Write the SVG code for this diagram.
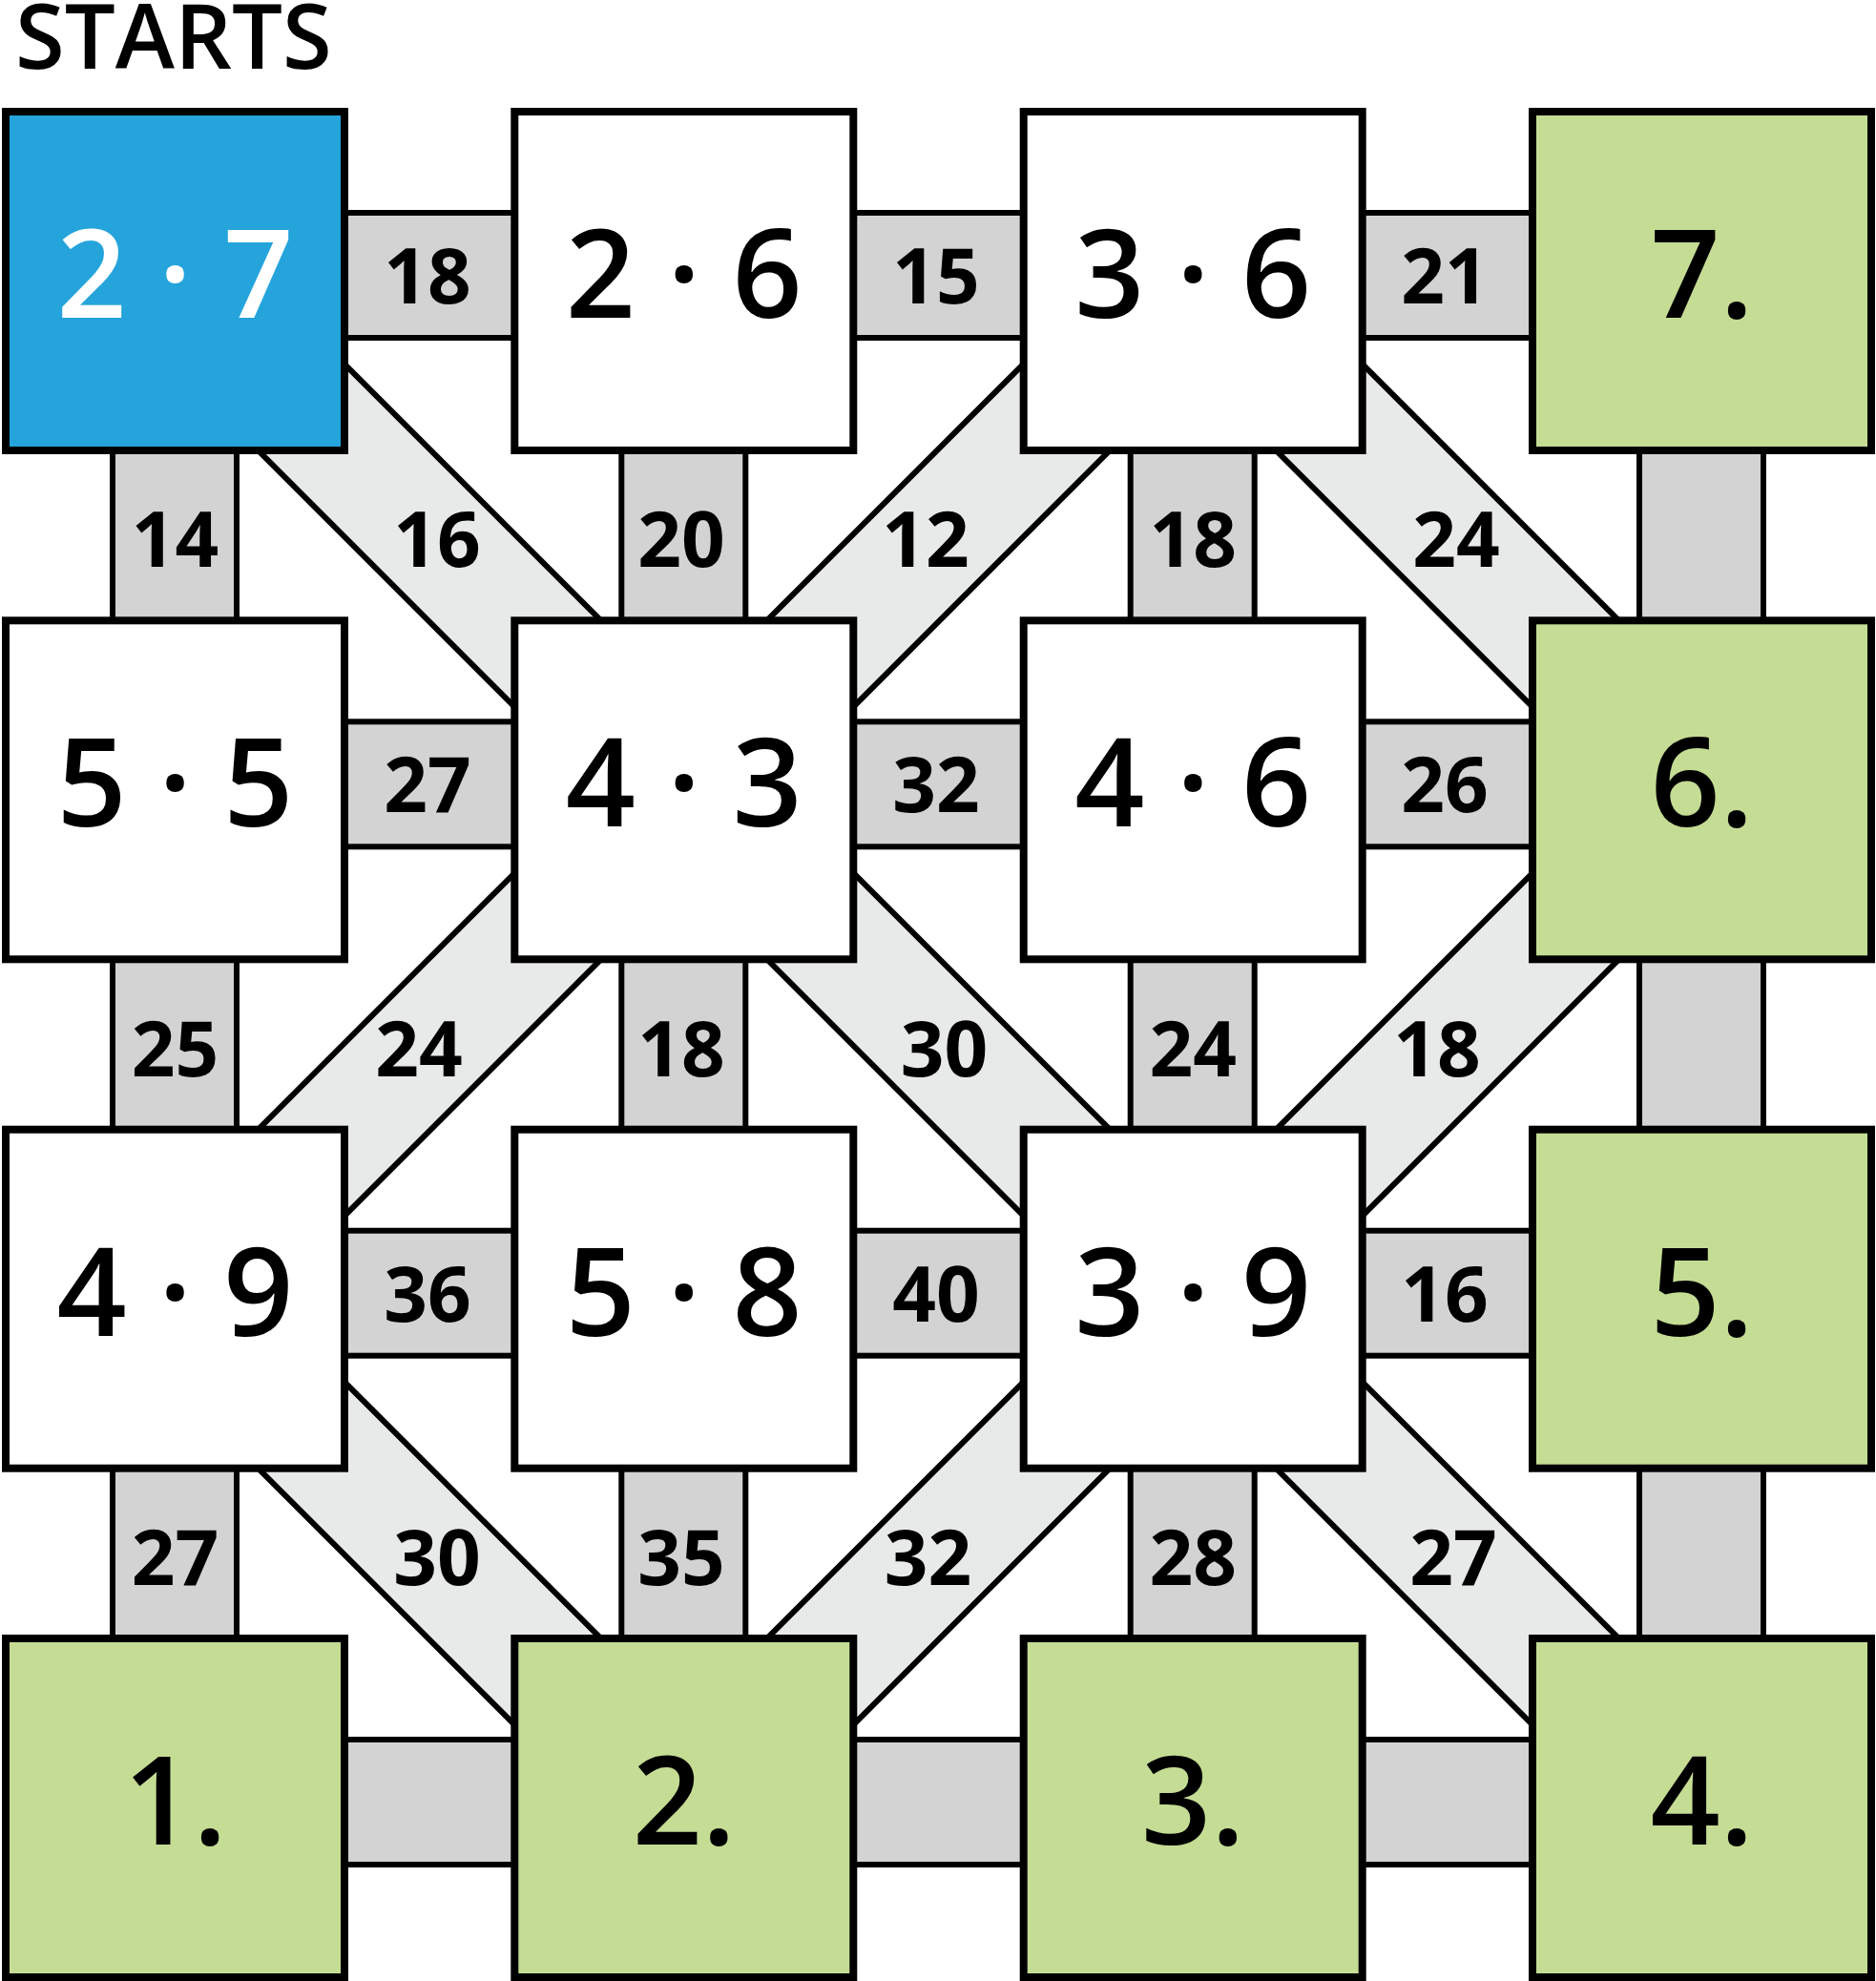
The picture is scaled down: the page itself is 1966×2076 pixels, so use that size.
<svg xmlns="http://www.w3.org/2000/svg" width="1966" height="2076" viewBox="0 0 1966 2076">
<style>
.bar{fill:#d3d3d3;stroke:#000;stroke-width:6}
.band{fill:#e8eae9;stroke:#000;stroke-width:6}
.box{stroke:#000;stroke-width:8}
.w{fill:#fff}
.g{fill:#c5dc94}
.b{fill:#25a4dc}
.nt{font-family:"Open Sans","Noto Sans","DejaVu Sans",sans-serif;font-size:128px;font-weight:600;text-anchor:middle;fill:#000}
.wt{fill:#fff}
.lt{font-family:"Open Sans","Noto Sans","DejaVu Sans",sans-serif;font-size:80px;font-weight:700;text-anchor:middle;fill:#000}
.title{font-family:"Open Sans","Noto Sans","DejaVu Sans",sans-serif;font-size:94px;font-weight:600;fill:#000}
</style>
<rect width="1966" height="2076" fill="#fff"/>
<text class="title" x="16" y="72">STARTS</text>
<g id="connectors">
<rect class="band" x="0" y="-64" width="754.2" height="128" transform="translate(183.5,294.5) rotate(45)"/>
<rect class="band" x="0" y="-64" width="754.2" height="128" transform="translate(716.8,827.8) rotate(-45)"/>
<rect class="band" x="0" y="-64" width="754.2" height="128" transform="translate(1250.2,294.5) rotate(45)"/>
<rect class="band" x="0" y="-64" width="754.2" height="128" transform="translate(183.5,1361.2) rotate(-45)"/>
<rect class="band" x="0" y="-64" width="754.2" height="128" transform="translate(716.8,827.8) rotate(45)"/>
<rect class="band" x="0" y="-64" width="754.2" height="128" transform="translate(1250.2,1361.2) rotate(-45)"/>
<rect class="band" x="0" y="-64" width="754.2" height="128" transform="translate(183.5,1361.2) rotate(45)"/>
<rect class="band" x="0" y="-64" width="754.2" height="128" transform="translate(716.8,1894.5) rotate(-45)"/>
<rect class="band" x="0" y="-64" width="754.2" height="128" transform="translate(1250.2,1361.2) rotate(45)"/>
<rect class="bar" x="183.5" y="223" width="533.3" height="131"/>
<rect class="bar" x="716.8" y="223" width="533.3" height="131"/>
<rect class="bar" x="1250.2" y="223" width="533.3" height="131"/>
<rect class="bar" x="183.5" y="756.3" width="533.3" height="131"/>
<rect class="bar" x="716.8" y="756.3" width="533.3" height="131"/>
<rect class="bar" x="1250.2" y="756.3" width="533.3" height="131"/>
<rect class="bar" x="183.5" y="1289.7" width="533.3" height="131"/>
<rect class="bar" x="716.8" y="1289.7" width="533.3" height="131"/>
<rect class="bar" x="1250.2" y="1289.7" width="533.3" height="131"/>
<rect class="bar" x="183.5" y="1823" width="533.3" height="131"/>
<rect class="bar" x="716.8" y="1823" width="533.3" height="131"/>
<rect class="bar" x="1250.2" y="1823" width="533.3" height="131"/>
<rect class="bar" x="118" y="294.5" width="130" height="533.3"/>
<rect class="bar" x="118" y="827.8" width="130" height="533.3"/>
<rect class="bar" x="118" y="1361.2" width="130" height="533.3"/>
<rect class="bar" x="651.3" y="294.5" width="130" height="533.3"/>
<rect class="bar" x="651.3" y="827.8" width="130" height="533.3"/>
<rect class="bar" x="651.3" y="1361.2" width="130" height="533.3"/>
<rect class="bar" x="1184.7" y="294.5" width="130" height="533.3"/>
<rect class="bar" x="1184.7" y="827.8" width="130" height="533.3"/>
<rect class="bar" x="1184.7" y="1361.2" width="130" height="533.3"/>
<rect class="bar" x="1718" y="294.5" width="130" height="533.3"/>
<rect class="bar" x="1718" y="827.8" width="130" height="533.3"/>
<rect class="bar" x="1718" y="1361.2" width="130" height="533.3"/>
<text class="lt" x="448" y="318">18</text>
<text class="lt" x="981" y="318">15</text>
<text class="lt" x="1514" y="318">21</text>
<text class="lt" x="448" y="851.3">27</text>
<text class="lt" x="981" y="851.3">32</text>
<text class="lt" x="1514" y="851.3">26</text>
<text class="lt" x="448" y="1384.7">36</text>
<text class="lt" x="981" y="1384.7">40</text>
<text class="lt" x="1514" y="1384.7">16</text>
<text class="lt" x="183.5" y="594">14</text>
<text class="lt" x="183.5" y="1127.5">25</text>
<text class="lt" x="183.5" y="1661">27</text>
<text class="lt" x="714" y="594">20</text>
<text class="lt" x="714" y="1127.5">18</text>
<text class="lt" x="714" y="1661">35</text>
<text class="lt" x="1250.2" y="594">18</text>
<text class="lt" x="1250.2" y="1127.5">24</text>
<text class="lt" x="1250.2" y="1661">28</text>
<text class="lt" x="458" y="594">16</text>
<text class="lt" x="970" y="594">12</text>
<text class="lt" x="1526" y="594">24</text>
<text class="lt" x="439" y="1127.5">24</text>
<text class="lt" x="989.5" y="1127.5">30</text>
<text class="lt" x="1506" y="1127.5">18</text>
<text class="lt" x="458" y="1661">30</text>
<text class="lt" x="972.5" y="1661">32</text>
<text class="lt" x="1523" y="1661">27</text>
</g>
<g id="n00"><rect class="box b" x="6" y="117" width="355" height="355"/><text class="nt wt" x="183.5" y="333">2 · 7</text></g>
<g id="n01"><rect class="box w" x="539.3" y="117" width="355" height="355"/><text class="nt" x="716.8" y="333">2 · 6</text></g>
<g id="n02"><rect class="box w" x="1072.7" y="117" width="355" height="355"/><text class="nt" x="1250.2" y="333">3 · 6</text></g>
<g id="n03"><rect class="box g" x="1606" y="117" width="355" height="355"/><text class="nt" x="1783.5" y="333">7.</text></g>
<g id="n10"><rect class="box w" x="6" y="650.3" width="355" height="355"/><text class="nt" x="183.5" y="866.3">5 · 5</text></g>
<g id="n11"><rect class="box w" x="539.3" y="650.3" width="355" height="355"/><text class="nt" x="716.8" y="866.3">4 · 3</text></g>
<g id="n12"><rect class="box w" x="1072.7" y="650.3" width="355" height="355"/><text class="nt" x="1250.2" y="866.3">4 · 6</text></g>
<g id="n13"><rect class="box g" x="1606" y="650.3" width="355" height="355"/><text class="nt" x="1783.5" y="866.3">6.</text></g>
<g id="n20"><rect class="box w" x="6" y="1183.7" width="355" height="355"/><text class="nt" x="183.5" y="1399.7">4 · 9</text></g>
<g id="n21"><rect class="box w" x="539.3" y="1183.7" width="355" height="355"/><text class="nt" x="716.8" y="1399.7">5 · 8</text></g>
<g id="n22"><rect class="box w" x="1072.7" y="1183.7" width="355" height="355"/><text class="nt" x="1250.2" y="1399.7">3 · 9</text></g>
<g id="n23"><rect class="box g" x="1606" y="1183.7" width="355" height="355"/><text class="nt" x="1783.5" y="1399.7">5.</text></g>
<g id="n30"><rect class="box g" x="6" y="1717" width="355" height="355"/><text class="nt" x="183.5" y="1933">1.</text></g>
<g id="n31"><rect class="box g" x="539.3" y="1717" width="355" height="355"/><text class="nt" x="716.8" y="1933">2.</text></g>
<g id="n32"><rect class="box g" x="1072.7" y="1717" width="355" height="355"/><text class="nt" x="1250.2" y="1933">3.</text></g>
<g id="n33"><rect class="box g" x="1606" y="1717" width="355" height="355"/><text class="nt" x="1783.5" y="1933">4.</text></g>
</svg>
